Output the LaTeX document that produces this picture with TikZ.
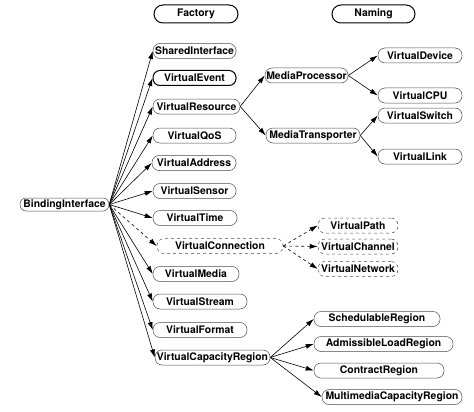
\documentclass[tikz,border=0pt]{standalone}
\usepackage{fontspec}
\setmainfont{TeX Gyre Heros}
\usetikzlibrary{arrows.meta}
\begin{document}
\begin{tikzpicture}[x=1pt, y=-1pt,
        cls/.style={draw=black!70, line width=0.5pt, rounded corners=7pt,
            minimum height=15pt, inner sep=1pt,
            font=\bfseries\fontsize{10.4}{12}\selectfont},
        keycls/.style={cls, draw=black, line width=1pt},
        abscls/.style={cls, dashed},
        inh/.style={-{Latex[length=8pt,width=5pt]}, line width=0.6pt},
        absinh/.style={inh, dashed}]
    \useasboundingbox (0,0) rectangle (474,412);

    \node[keycls, minimum width=84pt, minimum height=18pt, rounded corners=9pt]
        (factory) at (196,14) {Factory};
    \node[keycls, minimum width=83pt, minimum height=18pt, rounded corners=9pt]
        (naming) at (373.5,14) {Naming};

    \node[cls, minimum width=89pt, minimum height=13pt, rounded corners=6pt]
        (binding) at (64.5,204.5) {BindingInterface};

    \node[cls, minimum width=83pt] (shared) at (194.5,51) {SharedInterface};
    \node[keycls, minimum width=83pt] (event) at (194.5,78) {VirtualEvent};
    \node[cls, minimum width=87pt] (resource) at (196.5,106.5) {VirtualResource};
    \node[cls, minimum width=83pt] (qos) at (194.5,135.5) {VirtualQoS};
    \node[cls, minimum width=84pt] (address) at (194,163) {VirtualAddress};
    \node[cls, minimum width=83pt] (sensor) at (194.5,191) {VirtualSensor};
    \node[cls, minimum width=84pt] (time) at (195,218) {VirtualTime};
    \node[abscls, minimum width=126pt] (connection) at (220,246) {VirtualConnection};
    \node[cls, minimum width=86pt] (media) at (196,274) {VirtualMedia};
    \node[cls, minimum width=94pt] (stream) at (200,301.5) {VirtualStream};
    \node[cls, minimum width=94pt] (format) at (200,330) {VirtualFormat};
    \node[cls, minimum width=115pt] (capacity) at (212.5,357.5) {VirtualCapacityRegion};

    \node[cls, minimum width=83pt] (processor) at (306.5,75.5) {MediaProcessor};
    \node[cls, minimum width=94pt] (transporter) at (313,135.5) {MediaTransporter};
    \node[cls, minimum width=84pt] (device) at (420,55.5) {VirtualDevice};
    \node[cls, minimum width=84pt] (cpu) at (420,95.5) {VirtualCPU};
    \node[cls, minimum width=84pt] (switch) at (420,115.5) {VirtualSwitch};
    \node[cls, minimum width=84pt] (link) at (420,156.5) {VirtualLink};

    \node[abscls, minimum width=80pt] (path) at (358,225.5) {VirtualPath};
    \node[abscls, minimum width=80pt] (channel) at (358,246.5) {VirtualChannel};
    \node[abscls, minimum width=80pt] (network) at (358,269) {VirtualNetwork};

    \node[cls, minimum width=126pt] (schedulable) at (377,319) {SchedulableRegion};
    \node[cls, minimum width=139pt] (admissible) at (383.5,344) {AdmissibleLoadRegion};
    \node[cls, minimum width=130pt] (contract) at (379,370.5) {ContractRegion};
    \node[cls, minimum width=140pt] (multimedia) at (392,397) {MultimediaCapacityRegion};

    % binding interface
    \draw[inh] (binding.east) -- (shared.west);
    \draw[inh] (binding.east) -- (event.west);
    \draw[inh] (binding.east) -- (resource.west);
    \draw[inh] (binding.east) -- (qos.west);
    \draw[inh] (binding.east) -- (address.west);
    \draw[inh] (binding.east) -- (sensor.west);
    \draw[inh] (binding.east) -- (time.west);
    \draw[absinh] (binding.east) -- (connection.west);
    \draw[inh] (binding.east) -- (media.west);
    \draw[inh] (binding.east) -- (stream.west);
    \draw[inh] (binding.east) -- (format.west);
    \draw[inh] (binding.east) -- (capacity.west);

    % resources
    \draw[inh] (resource.east) -- (processor.west);
    \draw[inh] (resource.east) -- (transporter.west);
    \draw[inh] (processor.east) -- (device.west);
    \draw[inh] (processor.east) -- (cpu.west);
    \draw[inh] (transporter.east) -- (switch.west);
    \draw[inh] (transporter.east) -- (link.west);

    % connections
    \draw[absinh] (connection.east) -- (path.west);
    \draw[absinh] (connection.east) -- (channel.west);
    \draw[absinh] (connection.east) -- (network.west);

    % capacity regions
    \draw[inh] (capacity.east) -- (schedulable.west);
    \draw[inh] (capacity.east) -- (admissible.west);
    \draw[inh] (capacity.east) -- (contract.west);
    \draw[inh] (capacity.east) -- (multimedia.west);
\end{tikzpicture}
\end{document}
